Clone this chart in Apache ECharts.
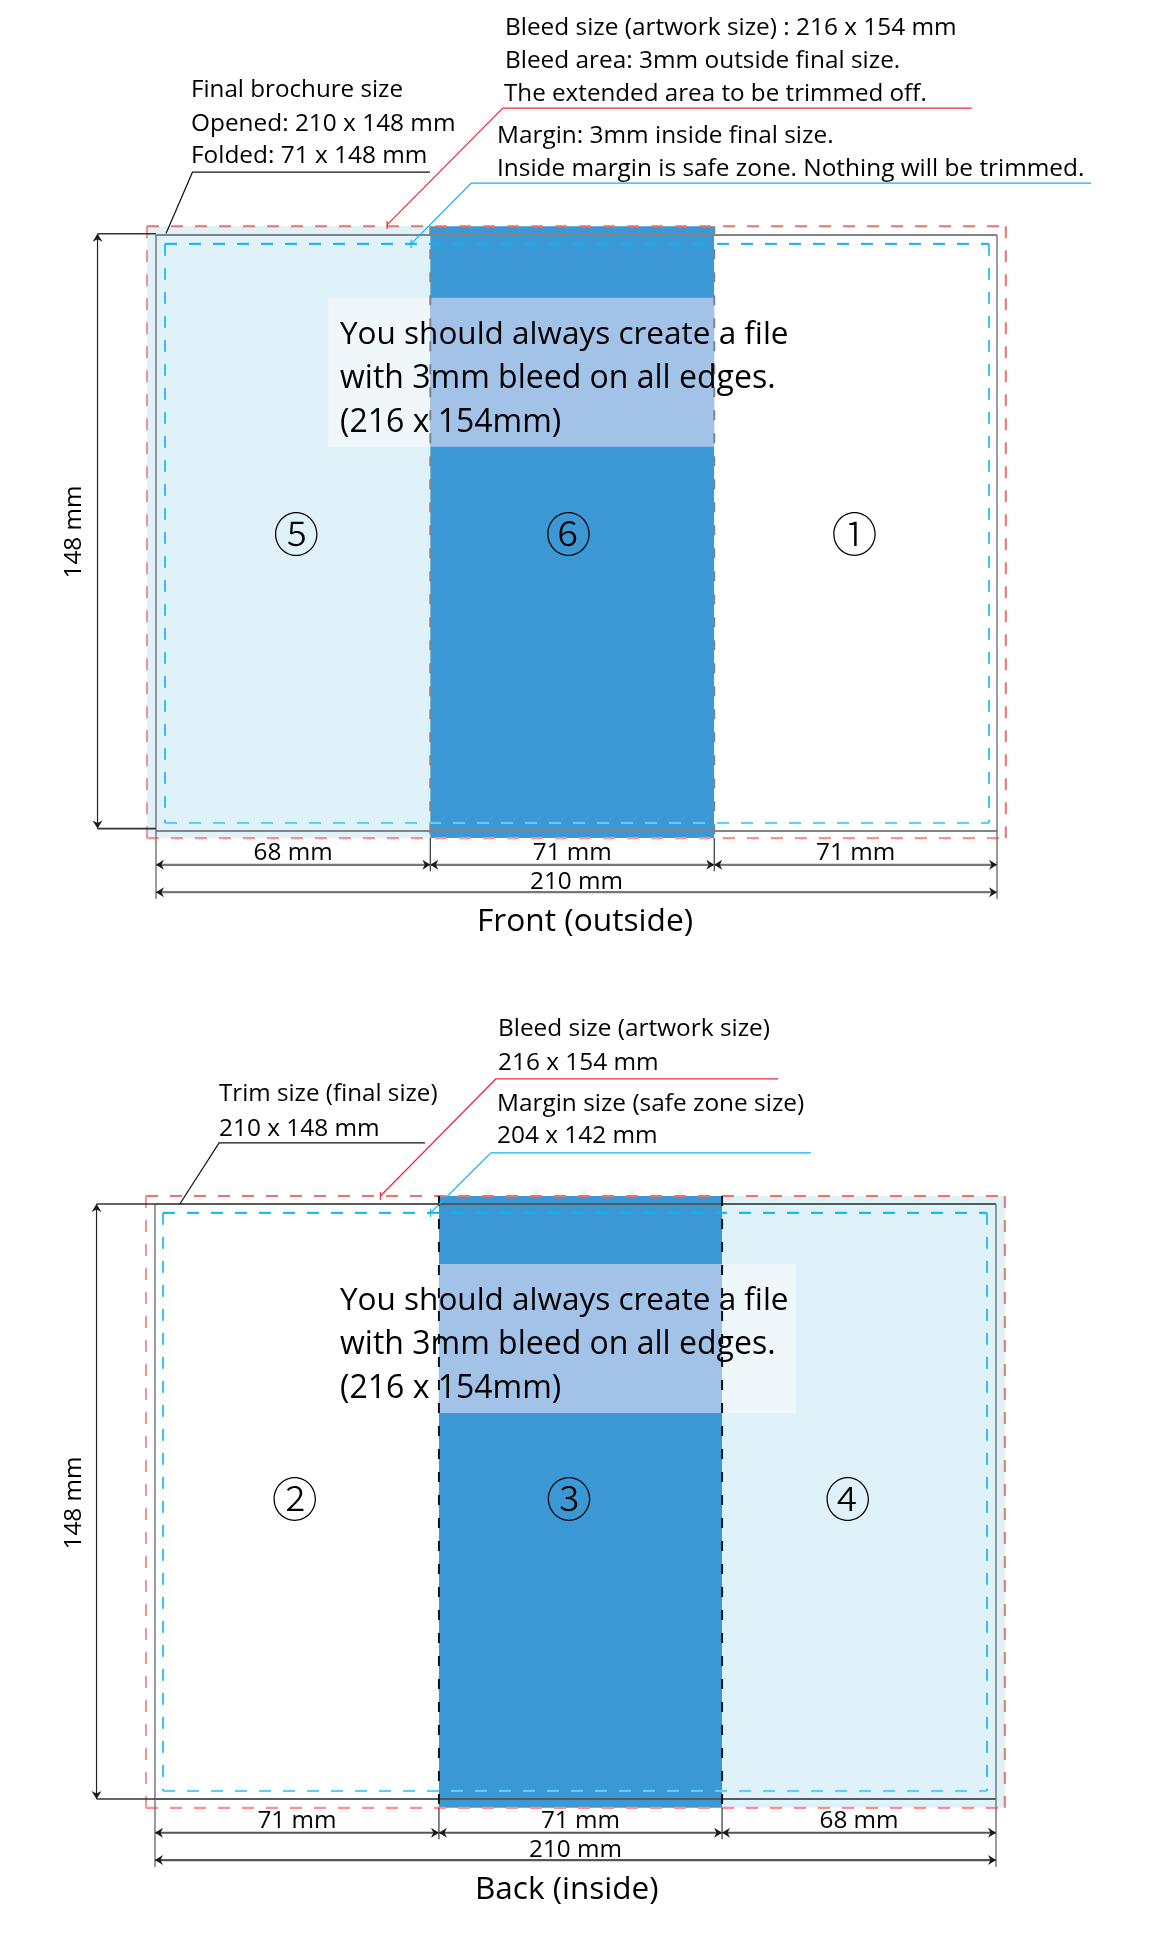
<!DOCTYPE html>
<html>
<head>
<meta charset="utf-8">
<title>Brochure layout</title>
<script src="https://cdn.jsdelivr.net/npm/echarts@6/dist/echarts.min.js"></script>
<style>
html, body { margin: 0; padding: 0; background: #fff; }
#chart { width: 1152px; height: 1936px; }
</style>
</head>
<body>
<div id="chart"></div>
<script>
// all sheet values in mm
var trimWidth = 210, trimHeight = 148;
var frontPanelLabels = ["68 mm", "71 mm", "71 mm"];
var backPanelLabels = ["71 mm", "71 mm", "68 mm"];
var frontFolds = [0, 68.5, 139.4, 210];
var backFolds = [0, 70.9, 141.6, 210];
var frontPanelNumbers = ["⑤", "⑥", "①"];
var backPanelNumbers = ["②", "③", "④"];
var frontNumberX = [35, 103, 174.4];
var backNumberX = [34.9, 103.4, 173];
// left, top, right, bottom
var frontBleed = [-2.25, -2.2, 212.2, 149.75];
var backBleed = [-2.25, -2, 212.2, 150.2];
var frontMargin = [2.25, 2.2, 208, 146];
var backMargin = [2, 2.2, 207.75, 146];
var frontPanelFills = ["#DFF1F9", "#3C98D4", "#FFFFFF"];
var backPanelFills = ["#FFFFFF", "#3C98D4", "#DFF1F9"];
var mmFont = "24.3px 'Open Sans'";

var series = [];

function rects(g, data, fills) {
    series.push({
        type: "custom", coordinateSystem: "cartesian2d", xAxisIndex: g, yAxisIndex: g,
        clip: false, silent: true, data: data,
        renderItem: function(p, api) {
            var a = api.coord([api.value(0), api.value(1)]), b = api.coord([api.value(2), api.value(3)]);
            return { type: "rect", shape: { x: a[0], y: a[1], width: b[0] - a[0], height: b[1] - a[1] }, style: { fill: fills[p.dataIndex] } };
        }
    });
}

function lines(g, data, stroke, width, dash) {
    series.push({
        type: "custom", coordinateSystem: "cartesian2d", xAxisIndex: g, yAxisIndex: g,
        clip: false, silent: true, data: data,
        renderItem: function(p, api) {
            var pts = [];
            for (var i = 0; i < data[p.dataIndex].length; i += 2) pts.push(api.coord([api.value(i), api.value(i + 1)]));
            return { type: "polyline", shape: { points: pts }, style: { stroke: stroke, lineWidth: width, lineDash: dash || null, fill: null } };
        }
    });
}

function arrows(g, data) {
    series.push({
        type: "custom", coordinateSystem: "cartesian2d", xAxisIndex: g, yAxisIndex: g,
        clip: false, silent: true, data: data,
        renderItem: function(p, api) {
            var c = api.coord([api.value(0), api.value(1)]), t = api.value(2) * Math.PI / 180;
            var pts = [[0, 0], [-8, 5], [-5.5, 0], [-8, -5]].map(function(q) {
                return [c[0] + q[0] * Math.cos(t) - q[1] * Math.sin(t), c[1] + q[0] * Math.sin(t) + q[1] * Math.cos(t)];
            });
            return { type: "polygon", shape: { points: pts }, style: { fill: "#1a1a1a" } };
        }
    });
}

function labels(g, data, font) {
    series.push({
        type: "custom", coordinateSystem: "cartesian2d", xAxisIndex: g, yAxisIndex: g,
        clip: false, silent: true, data: data,
        renderItem: function(p, api) {
            var c = api.coord([data[p.dataIndex][1], data[p.dataIndex][2]]);
            return { type: "text", x: c[0], y: c[1], style: { text: data[p.dataIndex][0], font: font, fill: "#000", align: "center", verticalAlign: "middle" } };
        }
    });
}

function frame(box) {
    return {
        top: [box[0], box[1], box[2], box[1]],
        right: [box[2], box[1], box[2], box[3]],
        bottom: [box[0], box[3], box[2], box[3]],
        left: [box[0], box[1], box[0], box[3]]
    };
}

function sheet(g, o) {
    var f = o.folds, b = o.bleed;
    // panels bleed out to the dashed edge, the white one stays empty
    rects(g, f.slice(0, 3).map(function(x, i) {
        return [i == 0 ? b[0] : x, b[1], i == 2 ? b[2] : f[i + 1], b[3]];
    }), o.fills);
    rects(g, o.box, o.boxFills);

    var bl = frame(b), mg = frame(o.margin), dash = [12, 12];
    lines(g, [bl.top, bl.right], "#E8756C", 2, dash);
    lines(g, [bl.left], "#E8756C", 1.5, dash);
    lines(g, [bl.bottom], "#FF8E8E", 2.2, dash);
    lines(g, [mg.top], "#0DB4EF", 2, dash);
    lines(g, [mg.left, mg.right], "#0DB4EF", 1.6, dash);
    lines(g, [mg.bottom], "#62CDF6", 2.2, dash);

    // trim size
    lines(g, [[0, 0, 210, 0], [0, 148, 210, 148]], o.trimColor, o.trimWidth);
    lines(g, [[0, 0, 0, 164.9], [210, 0, 210, 164.9]], "#6d7173", 1.4);
    lines(g, [[f[1], b[1], f[1], b[3]], [f[2], b[1], f[2], b[3]]], o.foldColor, 2, [10, 13]);
    lines(g, [[f[1], b[3], f[1], 158], [f[2], b[3], f[2], 158]], "#333", 1.2);

    // dimension lines
    var row1 = 156.4, row2 = 163.2, ar = [];
    lines(g, f.slice(0, 3).map(function(x, i) { return [x, row1, f[i + 1], row1]; }).concat([[0, row2, 210, row2]]), o.dimColor, 2.2);
    f.slice(0, 3).forEach(function(x, i) {
        ar.push([x, row1, 180], [f[i + 1], row1, 0]);
    });
    ar.push([0, row2, 180], [210, row2, 0]);
    arrows(g, ar);
    labels(g, o.panelLabels.map(function(t, i) { return [t, (f[i] + f[i + 1]) / 2, 153.5]; }).concat([[trimWidth + " mm", trimWidth / 2, 160.7]]), mmFont);
    labels(g, o.numbers.map(function(t, i) { return [t, o.numberX[i], o.numberY]; }), "300 46px 'Noto Sans CJK JP'");

    // height dimension on the left
    lines(g, [[-14.6, o.tickTop, 0, o.tickTop], [-14.6, o.tickBottom, 0, o.tickBottom]], "#333", 1.6);
    lines(g, [[-14.6, o.tickTop, -14.6, o.tickBottom]], "#222", 1.2);
    arrows(g, [[-14.6, o.tickTop, -90], [-14.6, o.tickBottom, 90]]);

    // leaders
    lines(g, [o.leaderTrim], "#111", 1.2);
    lines(g, [o.leaderBleed, [o.leaderBleed[4], o.leaderBleed[5] - 1, o.leaderBleed[4], o.leaderBleed[5] + 1]], "#EE2A36", 1.2);
    lines(g, [o.leaderMargin, [o.leaderMargin[4], o.leaderMargin[5] - 1, o.leaderMargin[4], o.leaderMargin[5] + 1]], "#0DB4EF", 1.2);
}

sheet(0, {
    folds: frontFolds, bleed: frontBleed, margin: frontMargin, fills: frontPanelFills,
    box: [[43, 15.6, frontFolds[1], 52.6], [frontFolds[1], 15.6, frontFolds[2], 52.6]],
    boxFills: ["#EFF7FB", "#A3C2E8"],
    trimColor: "#7f8588", trimWidth: 2.2, foldColor: "#7f8488", dimColor: "#777",
    panelLabels: frontPanelLabels, numbers: frontPanelNumbers, numberX: frontNumberX, numberY: 74.1,
    tickTop: -0.3, tickBottom: 147.4,
    leaderTrim: [68.4, -15.6, 9.1, -15.6, 2.5, -0.4],
    leaderBleed: [203.7, -31.5, 86.6, -31.5, 57.7, -2.5],
    leaderMargin: [233.5, -12.9, 78.7, -12.9, 63.7, 2.2]
});

sheet(1, {
    folds: backFolds, bleed: backBleed, margin: backMargin, fills: backPanelFills,
    box: [[backFolds[1], 14.9, backFolds[2], 52], [backFolds[2], 14.9, 160, 52]],
    boxFills: ["#A3C2E8", "#EFF7FB"],
    trimColor: "#555a5c", trimWidth: 1.8, foldColor: "#111", dimColor: "#555",
    panelLabels: backPanelLabels, numbers: backPanelNumbers, numberX: backNumberX, numberY: 73.3,
    tickTop: 0, tickBottom: 148,
    leaderTrim: [67.4, -15.2, 16, -15.2, 6.2, 0],
    leaderBleed: [155.6, -31.1, 85.1, -31.1, 56.3, -2],
    leaderMargin: [163.8, -12.7, 83.9, -12.7, 68.8, 2.2]
});

// free text sits on the page, not on the scales
function note(x, y, text, size, rot) {
    return {
        type: "text", x: x, y: y, z: 100, rotation: rot || 0,
        style: { text: text, font: size + "px 'Open Sans'", fill: "#000", align: rot ? "center" : "left", verticalAlign: "middle" }
    };
}

var notes = [
    note(505, 28, "Bleed size (artwork size) : 216 x 154 mm", 24.4),
    note(505, 61, "Bleed area: 3mm outside final size.", 24.4),
    note(504, 94, "The extended area to be trimmed off.", 24.2),
    note(497, 136, "Margin: 3mm inside final size.", 24.4),
    note(497, 169, "Inside margin is safe zone. Nothing will be trimmed.", 24.4),
    note(191, 90, "Final brochure size", 24.2),
    note(191, 124, "Opened: 210 x 148 mm", 24.4),
    note(191, 156, "Folded: 71 x 148 mm", 24.4),
    note(340, 335, "You should always create a file", 31.5),
    note(340, 379, "with 3mm bleed on all edges.", 32),
    note(340, 423, "(216 x 154mm)", 32),
    note(74, 532, "148 mm", 24.3, Math.PI / 2),
    note(477, 922, "Front (outside)", 31.7),

    note(498, 1029, "Bleed size (artwork size)", 24.4),
    note(498, 1063, "216 x 154 mm", 24.4),
    note(497, 1104, "Margin size (safe zone size)", 24.4),
    note(497, 1136, "204 x 142 mm", 24.4),
    note(219, 1094, "Trim size (final size)", 24.2),
    note(219, 1129, "210 x 148 mm", 24.4),
    note(340, 1301, "You should always create a file", 31.5),
    note(340, 1345, "with 3mm bleed on all edges.", 32),
    note(340, 1389, "(216 x 154mm)", 32),
    note(74, 1503, "148 mm", 24.3, Math.PI / 2),
    note(475, 1890, "Back (inside)", 31.5)
];

function axis(i, min, max, inverse) {
    return { type: "value", gridIndex: i, min: min, max: max, inverse: !!inverse, show: false };
}

var myChart = echarts.init(document.getElementById("chart"));
myChart.setOption({
    animation: false,
    backgroundColor: "#fff",
    grid: [
        { left: 156, top: 235, width: 841, height: 596 },
        { left: 155, top: 1204, width: 841, height: 595 }
    ],
    xAxis: [axis(0, 0, trimWidth), axis(1, 0, trimWidth)],
    yAxis: [axis(0, 0, trimHeight, true), axis(1, 0, trimHeight, true)],
    series: series,
    graphic: { elements: notes }
});
</script>
</body>
</html>
